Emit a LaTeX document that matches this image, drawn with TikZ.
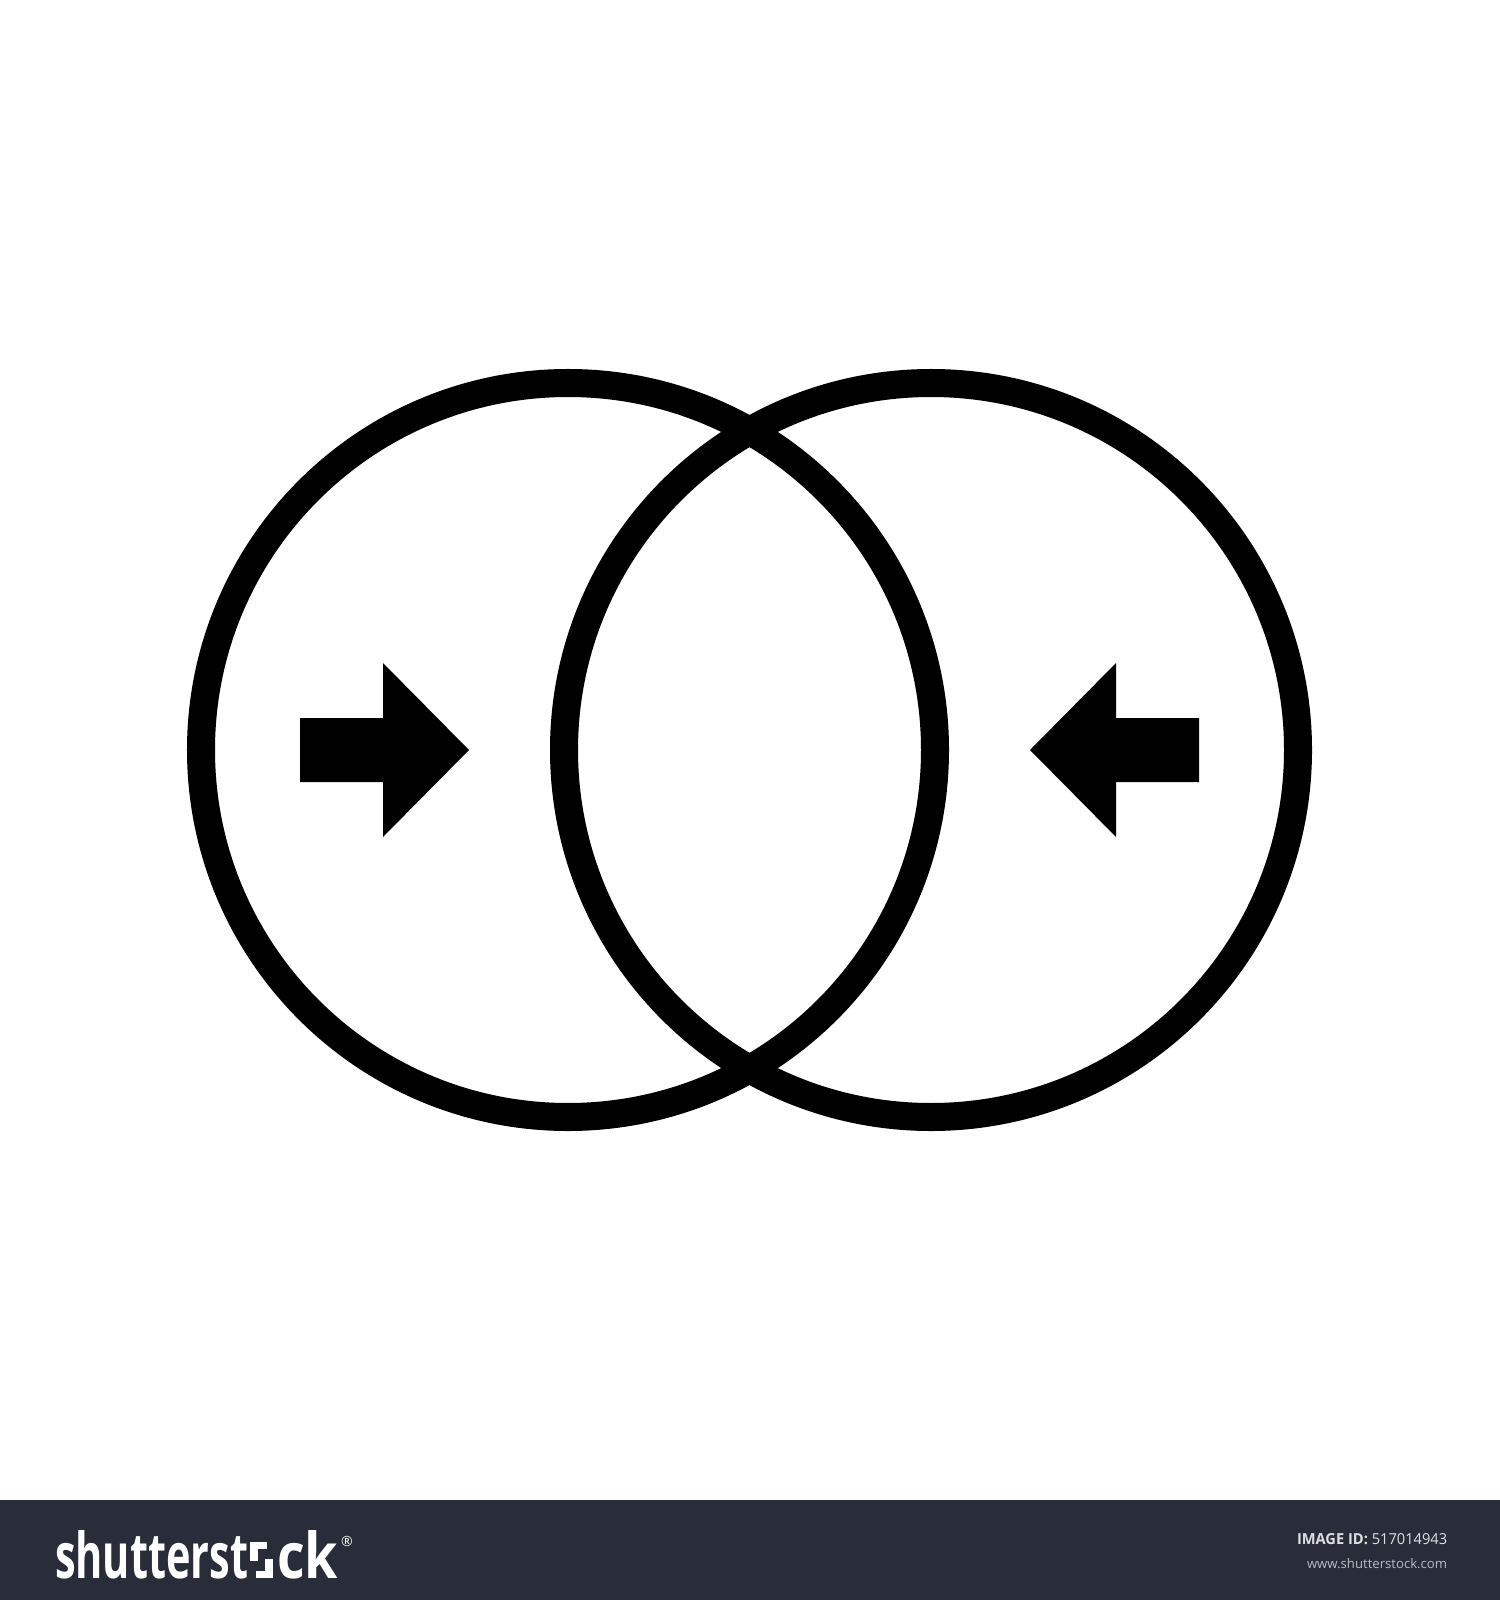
\documentclass[tikz,border=0pt]{standalone}
\usepackage{fontspec}
\usepackage{graphicx}
\newfontfamily\osans{Open Sans}
\definecolor{banner}{RGB}{40,45,57}
\definecolor{idtext}{RGB}{222,223,226}
\definecolor{urltext}{RGB}{185,188,194}
\begin{document}
\begin{tikzpicture}[x=0.01cm,y=-0.01cm,
  ring/.style={draw=black,line width=0.28cm},
  arrowshape/.style={fill=black,draw=none},
  logostroke/.style={white,line width=0.075cm},
  plain/.style={inner sep=0pt,outer sep=0pt,anchor=base west}]
\useasboundingbox (0,0) rectangle (1500,1600);
\fill[white] (0,0) rectangle (1500,1600);
% circles
\draw[ring] (568,750) circle[radius=367];
\draw[ring] (931,750) circle[radius=367];
% arrows
\path[arrowshape] (300,718) -- (383,718) -- (383,663) -- (469,750) -- (383,837) -- (383,782) -- (300,782) -- cycle;
\path[arrowshape] (1199,718) -- (1116,718) -- (1116,663) -- (1030,750) -- (1116,837) -- (1116,782) -- (1199,782) -- cycle;
% banner
\fill[banner] (0,1500) rectangle (1500,1600);
\node[plain,text=white] (logoa) at (55,1578) {\resizebox{1.93cm}{0.48cm}{\osans\bfseries shutterst}};
\draw[logostroke] (254,1561) -- (254,1545.5) -- (267,1545.5);
\draw[logostroke] (269,1559) -- (269,1574.5) -- (256,1574.5);
\node[plain,text=white] (logob) at (277,1578) {\resizebox{0.61cm}{0.48cm}{\osans\bfseries ck}};
\node[plain,text=white,font=\osans\fontsize{4pt}{4pt}\selectfont] (reg) at (341,1546) {®};
\node[plain,text=idtext] (imgid) at (1297,1544) {\resizebox{1.50cm}{0.11cm}{\osans{\bfseries IMAGE ID:} 517014943}};
\node[plain,text=urltext] (url) at (1307,1568) {\resizebox{1.40cm}{0.10cm}{\osans www.shutterstock.com}};
\end{tikzpicture}
\end{document}
